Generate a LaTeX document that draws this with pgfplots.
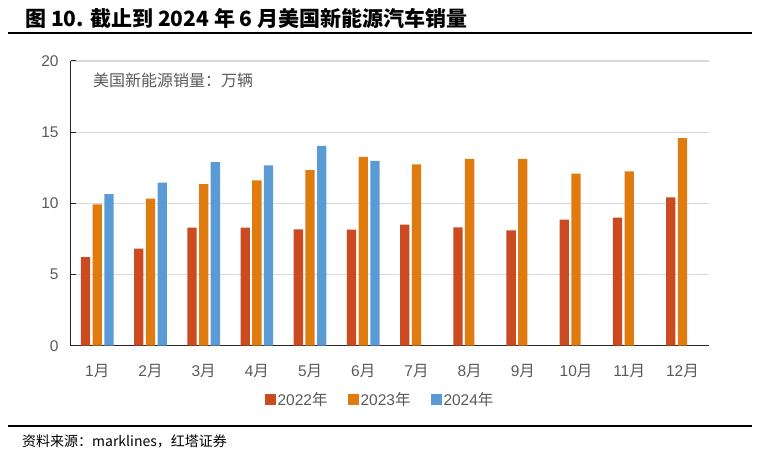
\documentclass[border=0pt]{standalone}
\usepackage{pgfplots}
\pgfplotsset{compat=1.18}
\usepackage{fontspec}
\setmainfont{Liberation Sans}
\newfontfamily\cjk{Noto Sans CJK SC}
\definecolor{c22}{RGB}{203,74,32}
\definecolor{c23}{RGB}{224,123,15}
\definecolor{c24}{RGB}{91,155,213}
\definecolor{txt}{RGB}{89,89,89}
\definecolor{gridc}{RGB}{217,217,217}
\begin{document}
\begin{tikzpicture}[x=1pt,y=1pt]
\useasboundingbox (0,0) rectangle (772,455);
\node[anchor=west, inner sep=0pt] at (25,437) {\cjk\fontsize{21}{25}\selectfont\bfseries 图 10. 截止到 2024 年 6 月美国新能源汽车销量};
\draw[line width=2pt] (8,421.5) -- (752,421.5);
\draw[line width=2pt] (8,29) -- (752,29);
\node[anchor=west, inner sep=0pt] at (22,14) {\cjk\fontsize{14}{16}\selectfont 资料来源：marklines，红塔证券};
\begin{axis}[
  at={(70.7pt,109.3pt)}, anchor=south west,
  scale only axis, width=638.3pt, height=284.7pt,
  xmin=-0.5, xmax=11.5, ymin=0, ymax=20,
  ytick={0,5,10,15,20},
  xtick={0,...,11},
  xticklabels={1\cjk 月,2\cjk 月,3\cjk 月,4\cjk 月,5\cjk 月,6\cjk 月,7\cjk 月,8\cjk 月,9\cjk 月,10\cjk 月,11\cjk 月,12\cjk 月},
  axis lines=left, axis line style={-, line width=1.2pt, black!85},
  ymajorgrids, grid style={gridc, line width=1.2pt},
  tick align=inside, major tick length=5pt,
  xtick style={draw=none},
  ytick style={black!85, line width=1pt},
  /pgf/number format/assume math mode=true,
  ticklabel style={font=\fontsize{15.5}{18}\selectfont, text=txt},
  yticklabel style={inner sep=0pt, xshift=-12pt},
  xticklabel style={inner sep=0pt, yshift=-13pt},
  ybar, bar width=0.175,
  legend columns=3,
  legend style={at={(0.4846,-0.19)}, anchor=center, draw=none, fill=none,
    font=\fontsize{15.5}{18}\selectfont, text=txt,
    /tikz/every even column/.append style={column sep=18pt}},
  legend image code/.code={\fill[#1] (0pt,-5.5pt) rectangle (11pt,5.5pt);},
]
\addplot[fill=c22, draw=none, bar shift=-0.22] coordinates {
(0,6.22) (1,6.82) (2,8.30) (3,8.30) (4,8.18) (5,8.15) (6,8.50) (7,8.32) (8,8.11) (9,8.86) (10,9.00) (11,10.42)};
\addplot[fill=c23, draw=none, bar shift=0] coordinates {
(0,9.93) (1,10.33) (2,11.35) (3,11.61) (4,12.33) (5,13.27) (6,12.73) (7,13.13) (8,13.13) (9,12.08) (10,12.24) (11,14.58)};
\addplot[fill=c24, draw=none, bar shift=0.22] coordinates {
(0,10.65) (1,11.45) (2,12.90) (3,12.66) (4,14.04) (5,12.99)};
\legend{2022{\cjk 年},2023{\cjk 年},2024{\cjk 年}}
\end{axis}
\node[anchor=west, inner sep=0pt, text=txt] at (93,375) {\cjk\fontsize{16}{18}\selectfont 美国新能源销量：万辆};
\end{tikzpicture}
\end{document}
